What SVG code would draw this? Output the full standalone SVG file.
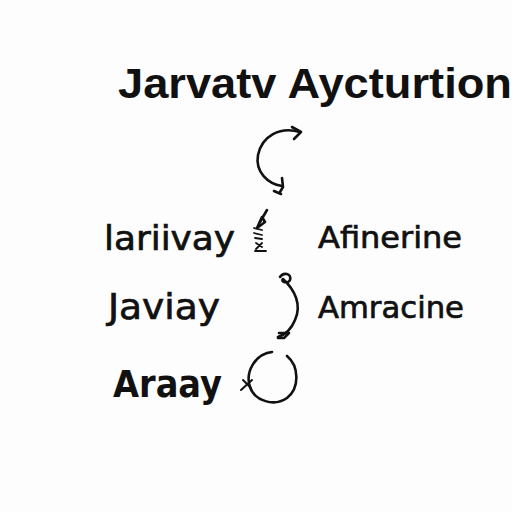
<svg xmlns="http://www.w3.org/2000/svg" width="512" height="512" viewBox="0 0 512 512">
<style>
.t{font-family:"Liberation Sans",Arial,sans-serif;font-weight:bold;fill:#111}
.l{font-family:"DejaVu Sans","Liberation Sans",sans-serif;fill:#111;stroke:#111;stroke-width:0.7}
.s{fill:none;stroke:#111;stroke-width:2.6;stroke-linecap:round;stroke-linejoin:round}
</style>
<rect width="512" height="512" fill="#fdfdfd"/>
<g id="title"><text class="t" x="118" y="98" font-size="42" textLength="394" lengthAdjust="spacingAndGlyphs">Jarvatv Aycturtion</text></g>
<g id="n1"><text class="l" x="104" y="250" font-size="34" textLength="131" lengthAdjust="spacingAndGlyphs">lariivay</text></g>
<g id="n2"><text class="l" x="108" y="319" font-size="35" textLength="112" lengthAdjust="spacingAndGlyphs">Javiay</text></g>
<g id="n3"><text class="l" x="113" y="397" font-size="37" font-weight="bold" style="stroke:none" textLength="109" lengthAdjust="spacingAndGlyphs">Araay</text></g>
<g id="n4"><text class="l" x="318" y="248" font-size="31" textLength="144" lengthAdjust="spacingAndGlyphs">Afinerine</text></g>
<g id="n5"><text class="l" x="318" y="318" font-size="31" textLength="146" lengthAdjust="spacingAndGlyphs">Amracine</text></g>
<g id="connectors">
<path class="s" d="M300,132 C280,126 262,136 258,155 C255,172 268,184 282,186"/>
<path class="s" d="M292,127 L301,132 L294,139"/>
<path class="s" d="M282,178 L283,187 L280,192"/>
<path class="s" d="M274,191 L281,194"/>
<path class="s" d="M267,210 L260,222"/>
<path class="s" d="M262,217 L257,228 L265,222 Z" fill="#111"/>
<path class="s" d="M254,228 L262,230 M254,233 L262,235 M255,238 L262,239 M256,243 L262,247 M262,243 L256,249 M255,251 L266,251" style="stroke-width:1.8"/>
<path class="s" d="M280,277 C283,272 292,273 290,280 C288,284 280,282 283,279 C295,290 302,305 295,320 C291,330 284,335 278,337"/>
<path class="s" d="M279,333 L289,333 L284,338 L278,338"/>
<path class="s" d="M287,356 C299,366 300,388 287,398 C274,407 255,401 250,387 C245,372 255,354 272,352"/>
<path class="s" d="M243,380 L251,388 M241,390 L252,380" style="stroke-width:2"/>
</g>
</svg>
